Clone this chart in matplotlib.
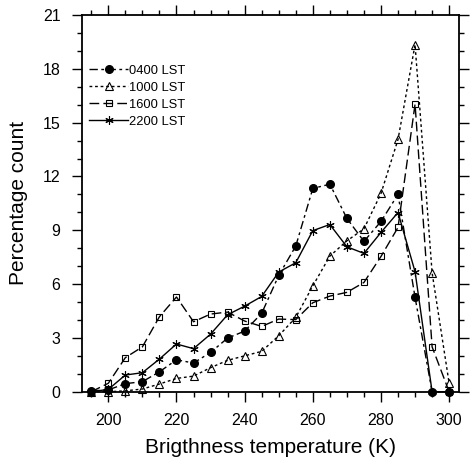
import matplotlib
matplotlib.use("Agg")
import matplotlib.pyplot as plt
from matplotlib.ticker import MultipleLocator

plt.rcParams["font.family"] = ["Liberation Sans", "DejaVu Sans"]

# brightness temperature bins (K)
temp = [195, 200, 205, 210, 215, 220, 225, 230, 235, 240, 245, 250,
        255, 260, 265, 270, 275, 280, 285, 290, 295, 300]

# percentage count per local time
lst_0400 = [0.05, 0.10, 0.45, 0.56, 1.11, 1.78, 1.60, 2.19, 2.99, 3.38, 4.37, 6.48,
            8.12, 11.33, 11.57, 9.66, 8.38, 9.49, 11.00, 5.26, 0.0, 0.0]
lst_1000 = [0.0, 0.0, 0.05, 0.15, 0.43, 0.74, 0.87, 1.34, 1.75, 2.00, 2.25, 3.12,
            4.14, 5.90, 7.56, 8.41, 9.08, 11.05, 14.06, 19.35, 6.63, 0.47]
lst_1600 = [0.0, 0.47, 1.90, 2.50, 4.18, 5.28, 3.90, 4.33, 4.44, 3.94, 3.64, 4.05,
            4.02, 4.96, 5.33, 5.54, 6.09, 7.54, 9.16, 16.03, 2.50, 0.0]
lst_2200 = [0.0, 0.13, 0.93, 1.06, 1.82, 2.66, 2.40, 3.21, 4.29, 4.77, 5.31, 6.67,
            7.19, 8.98, 9.32, 8.08, 7.71, 8.88, 9.99, 6.69, 0.0, 0.0]

labels = ["0400 LST", "1000 LST", "1600 LST", "2200 LST"]

fig = plt.figure(figsize=(4.74, 4.67), dpi=100)
ax = fig.add_axes([0.1724, 0.1612, 0.7953, 0.8067])

common = dict(color="black", linewidth=1.0, clip_on=False)
ax.plot(temp, lst_0400, linestyle=(0, (6, 2.5, 2, 2.5)), marker="o",
        markersize=5.5, markerfacecolor="black", label=labels[0], **common)
ax.plot(temp, lst_1000, linestyle=(0, (2, 2)), marker="^",
        markersize=5.5, markerfacecolor="none", markeredgewidth=0.8,
        label=labels[1], **common)
ax.plot(temp, lst_1600, linestyle=(0, (7, 3)), marker="s",
        markersize=5.0, markerfacecolor="none", markeredgewidth=0.8,
        label=labels[2], **common)
ax.plot(temp, lst_2200, linestyle="-", marker=(6, 2, 0),
        markersize=6, markeredgewidth=0.8, label=labels[3], **common)

ax.set_xlim(192.2, 302.8)
ax.set_ylim(0, 21)
ax.xaxis.set_major_locator(MultipleLocator(20))
ax.xaxis.set_minor_locator(MultipleLocator(5))
ax.yaxis.set_major_locator(MultipleLocator(3))
ax.yaxis.set_minor_locator(MultipleLocator(1))

ax.tick_params(which="both", direction="out", top=True, right=True,
               width=1.0, labelsize=11.5, pad=8)
ax.tick_params(which="major", length=7.2)
ax.tick_params(which="minor", length=3.6)
for spine in ax.spines.values():
    spine.set_linewidth(1.3)

ax.set_xlabel("Brigthness temperature (K)", fontsize=15, va="center")
ax.xaxis.set_label_coords(0.5, -0.147)
ax.set_ylabel("Percentage count", fontsize=15, va="center")
ax.yaxis.set_label_coords(-0.169, 0.5)

ax.legend(loc="upper left", bbox_to_anchor=(0.02, 0.868), frameon=False,
          fontsize=9.3, handlelength=3.0, handletextpad=0.1,
          labelspacing=0.38, borderpad=0.0, borderaxespad=0.0)

fig.savefig("out.png", dpi=100)
